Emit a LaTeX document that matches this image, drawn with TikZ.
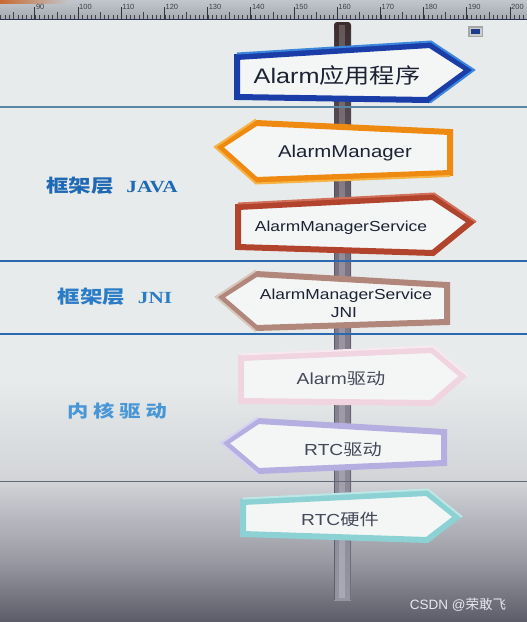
\documentclass[tikz,border=0pt]{standalone}
\usepackage{fontspec}
\setmainfont{Liberation Sans}
\newfontfamily\cjk{Noto Sans CJK SC}
\newfontfamily\serifb{Liberation Serif}
\definecolor{bgc}{HTML}{E7EBEB}
\definecolor{bgMid}{HTML}{D2D4D8}
\definecolor{bgLow}{HTML}{9A9AA4}
\definecolor{bgBot}{HTML}{5C5C68}
\definecolor{rulA}{HTML}{C2C6CC}
\definecolor{rulB}{HTML}{A4A9B2}
\definecolor{rulOr}{HTML}{C86A32}
\definecolor{rulLine}{HTML}{2A3250}
\definecolor{poleTop}{HTML}{3C2C2E}
\definecolor{poleMid}{HTML}{7A7282}
\definecolor{poleLow}{HTML}{9494A2}
\definecolor{poleEdge}{HTML}{4A4A58}
\definecolor{lineTop}{HTML}{5A86A6}
\definecolor{lineBlue}{HTML}{2A68B0}
\definecolor{lineGray}{HTML}{626878}
\definecolor{sBlue}{HTML}{1B3DA8}
\definecolor{sBlueL}{HTML}{3C86DC}
\definecolor{sOrange}{HTML}{EE8A12}
\definecolor{sOrangeL}{HTML}{F6B447}
\definecolor{sRed}{HTML}{B2432D}
\definecolor{sRedL}{HTML}{D0705A}
\definecolor{sTan}{HTML}{B0877A}
\definecolor{sTanL}{HTML}{D8C6BC}
\definecolor{sPink}{HTML}{F0D4E0}
\definecolor{sPinkL}{HTML}{F8E8EF}
\definecolor{sLav}{HTML}{B5AEE0}
\definecolor{sLavL}{HTML}{D6D2EF}
\definecolor{sTeal}{HTML}{8CD2D4}
\definecolor{sTealL}{HTML}{BDE6E6}
\definecolor{signFill}{HTML}{F4F6F6}
\definecolor{iconBlue}{HTML}{1F3C8C}
\definecolor{lblueA}{HTML}{1E68B4}
\definecolor{lblueB}{HTML}{2A7CC6}
\definecolor{lblueC}{HTML}{4896D6}
\definecolor{txtA}{HTML}{1C2233}
\definecolor{txtB}{HTML}{454858}
\definecolor{wmText}{HTML}{E6E8F0}
\newcommand{\hs}[1]{\scalebox{1.2}[1]{#1}}
\newcommand{\hl}[1]{\scalebox{1.25}[1]{#1}}
\newcommand{\fs}[1]{\fontsize{#1}{#1}\selectfont}
\begin{document}
\begin{tikzpicture}[x=1pt,y=-1pt,
  signbox/.style={line width=6pt, line join=miter, fill=signFill},
  bevel/.style={line width=2pt, line join=miter},
  signtext/.style={inner sep=0pt, anchor=center, text=txtA},
  lowtext/.style={inner sep=0pt, anchor=center, text=txtB},
  sidelabel/.style={inner sep=0pt, anchor=center},
  layerline/.style={line width=1.3pt}]
\useasboundingbox (0,0) rectangle (527,622);
% background
\fill[bgc] (0,0) rectangle (527,622);
\shade[top color=bgc, bottom color=bgMid] (0,380) rectangle (527,480);
\shade[top color=bgMid, bottom color=bgLow] (0,480) rectangle (527,560);
\shade[top color=bgLow, bottom color=bgBot] (0,560) rectangle (527,622);
% ruler
\shade[top color=rulA, bottom color=rulB] (0,0) rectangle (527,19);
\shade[left color=rulOr, right color=rulA] (0,0) rectangle (70,3);
\draw[line width=1.6pt, rulLine] (0,19.5) -- (527,19.5);
\foreach \i in {0,...,125} {\draw[black!75, line width=0.5pt] ({-8+4.32*\i},15) -- ({-8+4.32*\i},18.5);}
\foreach \i in {0,...,12} {\draw[black!75, line width=0.6pt] ({13.6+43.2*\i},12) -- ({13.6+43.2*\i},18.5);}
\foreach \n [count=\k from -1] in {90,100,110,120,130,140,150,160,170,180,190,200} {
  \draw[black!80, line width=0.7pt] ({78+43.2*\k},7) -- ({78+43.2*\k},18.5);
  \node[name=r\n, inner sep=0pt, anchor=west, text=black!75, font=\fs{7.5}] at ({79+43.2*\k},7) {\n};
}
% small icon
\fill[black!35] (468,26) rectangle (483,37);
\fill[black!20] (469.5,27.5) rectangle (481.5,35.5);
\fill[iconBlue] (471,29) rectangle (480,34);
% pole
\shade[top color=poleTop, bottom color=poleMid, rounded corners=3pt] (334,22) rectangle (351,262);
\shade[top color=poleMid, bottom color=poleLow] (334,258) rectangle (351,600);
\fill[white, opacity=0.2] (339,25) rectangle (345,598);
\draw[poleEdge, line width=1pt, opacity=0.7] (334.5,30) -- (334.5,600);
\draw[poleEdge, line width=0.8pt, opacity=0.5] (350.5,30) -- (350.5,600);
% layer lines
\draw[layerline, draw=lineTop] (0,107) -- (527,107);
\draw[layerline, draw=lineBlue] (0,261) -- (527,261);
\draw[layerline, draw=lineBlue] (0,334) -- (527,334);
\draw[layerline, line width=1pt, draw=lineGray] (0,481) -- (527,481);
% signs
\draw[signbox, draw=sBlue] (237,57) -- (430,45) -- (469,70) -- (428,100) -- (237,97) -- cycle;
\draw[bevel, sBlueL] (237,53.5) -- (431,41.5) -- (474,70) -- (430,102.5);
\draw[signbox, draw=sOrange] (219,147) -- (256,123) -- (450,132) -- (450,173) -- (256,180) -- cycle;
\draw[bevel, sOrangeL] (450,176) -- (256,183.5) -- (215,147) -- (256,119.5);
\draw[signbox, draw=sRed] (238,207) -- (433,197) -- (471,222) -- (433,253) -- (238,247) -- cycle;
\draw[bevel, sRedL] (238,203.5) -- (434,193.5) -- (476,222);
\draw[signbox, draw=sTan] (220,297) -- (256,274) -- (447,285) -- (447,322) -- (256,328) -- cycle;
\draw[bevel, sTanL] (256,331.5) -- (216,297) -- (256,270.5);
\draw[signbox, draw=sPink] (241,358) -- (432,350) -- (463,376) -- (432,403) -- (241,401) -- cycle;
\draw[bevel, sPinkL] (241,354.5) -- (433,346.5) -- (468,376);
\draw[signbox, draw=sLav] (225,443) -- (258,421) -- (444,432) -- (444,463) -- (258,471) -- cycle;
\draw[bevel, sLavL] (258,474.5) -- (221,443) -- (258,417.5);
\draw[signbox, draw=sTeal] (243,502) -- (427,493) -- (457,517) -- (427,540) -- (243,534) -- cycle;
\draw[bevel, sTealL] (243,498.5) -- (428,489.5) -- (462,517);
% sign texts
\node[signtext, name=t1] at (337,76) {\hs{\fs{21}Alarm{\cjk 应用程序}}};
\node[signtext, name=t2] at (345,153) {\hs{\fs{17}AlarmManager}};
\node[signtext, name=t3] at (341,228) {\hs{\fs{14.5}AlarmManagerService}};
\node[signtext, name=t4a] at (346,296) {\hs{\fs{14.5}AlarmManagerService}};
\node[signtext, name=t4b] at (344,313) {\hs{\fs{14.5}JNI}};
\node[lowtext, name=t5] at (341,379) {\hs{\fs{16}Alarm{\cjk 驱动}}};
\node[lowtext, name=t6] at (343,450) {\hs{\fs{16}RTC{\cjk 驱动}}};
\node[lowtext, name=t7] at (340,519) {\hs{\fs{16}RTC{\cjk 硬件}}};
% side labels
\node[sidelabel, name=l1, text=lblueA] at (112,186) {\hl{{\cjk\bfseries\fs{18}框架层}\hspace{10pt}{\serifb\bfseries\fs{17}JAVA}}};
\node[sidelabel, name=l2, text=lblueB] at (115,297) {\hl{{\cjk\bfseries\fs{18}框架层}\hspace{10pt}{\serifb\bfseries\fs{17}JNI}}};
\node[sidelabel, name=l3, text=lblueC] at (117,411) {\hl{\cjk\bfseries\fs{17}内\hspace{4pt}核\hspace{4pt}驱\hspace{4pt}动}};
% watermark
\node[inner sep=0pt, name=wm, text=wmText] at (458,605) {\fs{13.5}CSDN @{\cjk 荣敢飞}};
\end{tikzpicture}
\end{document}
